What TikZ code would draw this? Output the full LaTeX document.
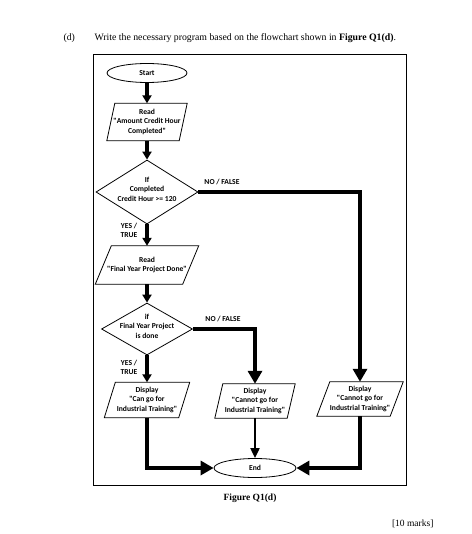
\documentclass[tikz,border=0pt]{standalone}
\usepackage{fontspec}
\setmainfont{Liberation Serif}
\newfontfamily\chartfont{Carlito}
\usetikzlibrary{shapes.geometric,arrows.meta}

% text that does not push the shape wider
\newcommand{\boxtext}[1]{\makebox[0pt]{\begin{tabular}{@{}c@{}}#1\end{tabular}}}
\newcommand{\flattext}[1]{\smash{\boxtext{#1}}}

\tikzset{
  chart/.style={font=\chartfont\bfseries\fontsize{7.6}{9.4}\selectfont},
  term/.style={chart, draw, thick, ellipse, inner sep=0pt, minimum width=80pt, minimum height=19pt},
  io/.style={chart, rectangle, inner sep=0pt},
  decide/.style={chart, draw, thick, diamond, inner sep=0pt},
  flow/.style={line width=3.5pt, -{Triangle[length=8pt,width=9pt]}},
  bigflow/.style={line width=3.5pt, -{Triangle[length=13pt,width=14pt]}},
  thinflow/.style={line width=2pt, -{Triangle[length=10pt,width=9pt]}},
  lbl/.style={chart}
}

\begin{document}
\begin{tikzpicture}[x=1pt, y=-1pt]
    \useasboundingbox (0,0) rectangle (471,534);

    % question text
    \node[anchor=base west, font=\fontsize{9.8}{11}\selectfont] (part) at (60,41) {(d)};
    \node[anchor=base west, font=\fontsize{9.8}{11}\selectfont] (task) at (91,41)
        {Write the necessary program based on the flowchart shown in \textbf{Figure Q1(d)}.};
    \draw[line width=1pt] (93,55) rectangle (406,485);

    % main column
    \node[term] (start) at (147,73) {Start};
    \node[io, minimum width=80pt, minimum height=37pt]
        (read1) at (147,122) {\boxtext{Read\\"Amount Credit Hour\\Completed"}};
    \node[decide, minimum width=102pt, minimum height=64pt]
        (if1) at (147,192) {\flattext{If\\Completed\\Credit Hour >= 120}};
    \node[io, minimum width=103pt, minimum height=38pt]
        (read2) at (147,265) {\boxtext{Read\\"Final Year Project Done"}};
    \node[decide, minimum width=91pt, minimum height=52pt]
        (if2) at (147,329) {\flattext{if\\Final Year Project\\is done}};

    % display row
    \node[io, minimum width=85pt, minimum height=35pt]
        (disp1) at (147,400) {\boxtext{Display\\"Can go for\\Industrial Training"}};
    \node[io, minimum width=80pt, minimum height=34pt]
        (disp2) at (255,401) {\boxtext{Display\\"Cannot go for\\Industrial Training"}};
    \node[io, minimum width=86pt, minimum height=34pt]
        (disp3) at (360,399) {\boxtext{Display\\"Cannot go for\\Industrial Training"}};
    \node[term, minimum width=82pt] (end) at (255,468) {End};

    % slanted outlines of the input/output boxes
    \foreach \n/\s in {read1/8, read2/16, disp1/11, disp2/8, disp3/13}
        \draw[thick] ([xshift=\s pt]\n.north west) -- (\n.north east)
            -- ([xshift=-\s pt]\n.south east) -- (\n.south west) -- cycle;

    % branch labels
    \node[lbl] (no1) at (222,182) {NO / FALSE};
    \node[lbl] (no2) at (223,319) {NO / FALSE};
    \node[lbl] (yes1) at (129,231) {\boxtext{YES /\\TRUE}};
    \node[lbl] (yes2) at (129,368) {\boxtext{YES /\\TRUE}};

    % connectors
    \draw[flow] (start) -- (read1);
    \draw[flow] (read1) -- (if1);
    \draw[flow] (if1) -- (read2);
    \draw[flow] (read2) -- (if2);
    \draw[flow] (if2) -- (disp1);
    \draw[bigflow] (if1.east) -| (disp3.north);
    \draw[bigflow] (if2.east) -| (disp2.north);
    \draw[bigflow] (disp1.south) |- (end.west);
    \draw[bigflow] (disp3.south) |- (end.east);
    \draw[thinflow] (disp2) -- (end);

    % caption
    \node[anchor=base, font=\bfseries\fontsize{9.5}{11}\selectfont] (cap) at (250,500) {Figure Q1(d)};
    \node[anchor=base east, font=\fontsize{9.5}{11}\selectfont] (marks) at (437,526) {[10 marks]};
\end{tikzpicture}
\end{document}
